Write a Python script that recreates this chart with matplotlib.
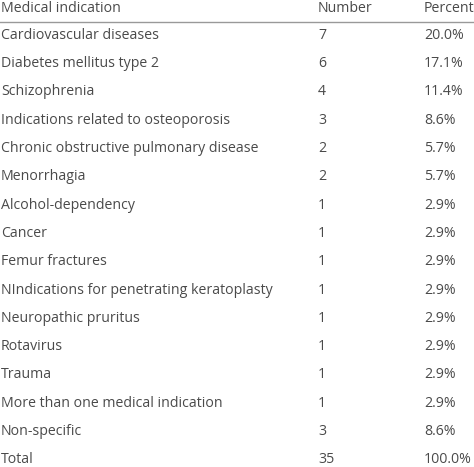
import matplotlib.pyplot as plt

indications = [
    "Cardiovascular diseases", "Diabetes mellitus type 2", "Schizophrenia",
    "Indications related to osteoporosis", "Chronic obstructive pulmonary disease",
    "Menorrhagia", "Alcohol-dependency", "Cancer", "Femur fractures",
    "NIndications for penetrating keratoplasty", "Neuropathic pruritus",
    "Rotavirus", "Trauma", "More than one medical indication", "Non-specific", "Total",
]
numbers = [7, 6, 4, 3, 2, 2, 1, 1, 1, 1, 1, 1, 1, 1, 3, 35]
percents = ["20.0%", "17.1%", "11.4%", "8.6%", "5.7%", "5.7%", "2.9%", "2.9%",
            "2.9%", "2.9%", "2.9%", "2.9%", "2.9%", "2.9%", "8.6%", "100.0%"]
header = ["Medical indication", "Number", "Percent"]

TXT = "#4a4a4a"
FS = 10.2

fig = plt.figure(figsize=(4.74, 4.67), dpi=100)
ax = fig.add_axes([0, 0, 1, 1])
ax.set_xlim(0, 474)
ax.set_ylim(467, 0)
ax.axis("off")

cols_x = [1, 318, 424]
y0, step = 8, 28.3
for x, h in zip(cols_x, header):
    ax.text(x, y0, h, va="center", ha="left", fontsize=FS, color=TXT, family="Open Sans")
ax.plot([0, 474], [22, 22], color="#999999", lw=1)

for i, (name, n, p) in enumerate(zip(indications, numbers, percents)):
    y = y0 + step * (i + 1) - 1
    ax.text(cols_x[0], y, name, va="center", ha="left", fontsize=FS, color=TXT, family="Open Sans")
    ax.text(cols_x[1], y, str(n), va="center", ha="left", fontsize=FS, color=TXT, family="Open Sans")
    ax.text(cols_x[2], y, p, va="center", ha="left", fontsize=FS, color=TXT, family="Open Sans")

fig.savefig("out.png", dpi=100)
